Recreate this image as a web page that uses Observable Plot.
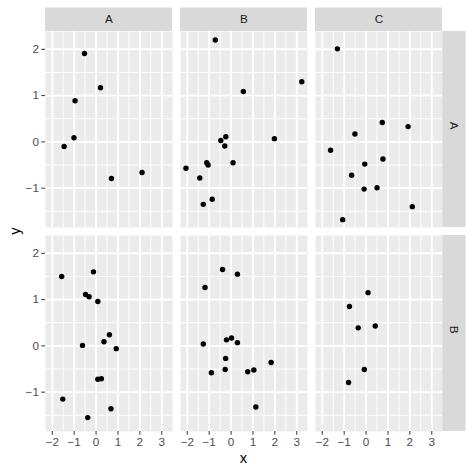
<!DOCTYPE html>
<html><head><meta charset="utf-8">
<script src="https://cdn.jsdelivr.net/npm/d3@7"></script>
<script src="https://cdn.jsdelivr.net/npm/@observablehq/plot@0.6"></script>
<style>html,body{margin:0;padding:0;background:white}</style>
</head><body><div id="chart"></div>
<script>
const colFacets = ["A", "B", "C"];
const rowFacets = ["A", "B"];
const xTicks = [-2, -1, 0, 1, 2, 3];
const yTicks = [-1, 0, 1, 2];
const xMinor = [-1.5, -0.5, 0.5, 1.5, 2.5];
const yMinor = [-1.5, -0.5, 0.5, 1.5];

// row A
const xAA = [-1.46, -0.53, 0.20, -0.96, -1.01, 0.70, 2.10];
const yAA = [-0.10, 1.91, 1.17, 0.89, 0.09, -0.79, -0.66];
const xAB = [-0.72, 3.23, 0.56, 1.98, -0.47, -0.24, -0.29, 0.09, -1.11, -1.05, -2.06, -1.43, -0.86, -1.27];
const yAB = [2.20, 1.30, 1.09, 0.07, 0.03, 0.11, -0.09, -0.45, -0.45, -0.50, -0.57, -0.78, -1.24, -1.35];
const xAC = [-1.31, 0.74, 1.92, -0.51, -1.62, 0.77, -0.06, -0.66, -0.09, 0.50, 2.11, -1.07];
const yAC = [2.01, 0.42, 0.33, 0.17, -0.18, -0.37, -0.48, -0.72, -1.02, -0.99, -1.40, -1.68];
// row B
const xBA = [-1.57, -0.12, -0.48, -0.32, 0.08, 0.61, 0.36, -0.62, 0.92, 0.08, 0.24, -1.52, 0.68, -0.38];
const yBA = [1.50, 1.60, 1.11, 1.06, 0.96, 0.24, 0.09, 0.01, -0.06, -0.72, -0.71, -1.15, -1.36, -1.55];
const xBB = [-0.39, 0.29, -1.19, 0.02, -0.21, 0.29, -1.27, -0.25, 1.83, -0.27, -0.90, 0.76, 1.04, 1.13];
const yBB = [1.65, 1.55, 1.26, 0.17, 0.13, 0.07, 0.04, -0.27, -0.36, -0.51, -0.58, -0.56, -0.52, -1.32];
const xBC = [0.09, -0.76, -0.36, 0.42, -0.08, -0.80];
const yBC = [1.15, 0.85, 0.39, 0.43, -0.51, -0.79];

const panels = [
  ["A", "A", xAA, yAA], ["A", "B", xAB, yAB], ["A", "C", xAC, yAC],
  ["B", "A", xBA, yBA], ["B", "B", xBB, yBB], ["B", "C", xBC, yBC]
];
const points = panels.flatMap(([row, col, xs, ys]) => xs.map((x, i) => ({row, col, x, y: ys[i]})));

const font = "'Liberation Sans', Arial, sans-serif";
const chart = Plot.plot({
  width: 474,
  height: 474,
  marginLeft: 43.3,
  marginRight: 30.7,
  marginTop: 30.7,
  marginBottom: 42.3,
  x: {domain: [-2.31, 3.49]},
  y: {domain: [-1.85, 2.385]},
  fx: {domain: colFacets, paddingInner: 0.0559, paddingOuter: 0, axis: null},
  fy: {domain: rowFacets, paddingInner: 0.0372, paddingOuter: 0, axis: null},
  style: {fontFamily: font, fontSize: "11.7px", background: "white", overflow: "visible"},
  marks: [
    Plot.frame({fill: "#EBEBEB", stroke: null}),
    Plot.gridX(xMinor, {stroke: "white", strokeOpacity: 1, strokeWidth: 0.95}),
    Plot.gridY(yMinor, {stroke: "white", strokeOpacity: 1, strokeWidth: 0.95}),
    Plot.gridX(xTicks, {stroke: "white", strokeOpacity: 1, strokeWidth: 1.9}),
    Plot.gridY(yTicks, {stroke: "white", strokeOpacity: 1, strokeWidth: 1.9}),
    Plot.axisX(xTicks, {tickSize: 3.7, tickPadding: 2.9, stroke: "#333333", fill: "#4D4D4D", label: null, fontSize: 11.7}),
    Plot.axisY(yTicks, {tickSize: 3.7, tickPadding: 2.9, stroke: "#333333", fill: "#4D4D4D", label: null, fontSize: 11.7}),
    Plot.dot(points, {x: "x", y: "y", fx: "col", fy: "row", r: 2.7, fill: "black", stroke: null}),
    Plot.text(colFacets, {fx: d => d, fy: () => rowFacets[0], text: d => d, frameAnchor: "top", dy: -12, lineAnchor: "middle", fill: "#1A1A1A", fontSize: 11.7}),
    Plot.text(rowFacets, {fy: d => d, fx: () => colFacets[colFacets.length - 1], text: d => d, frameAnchor: "right", dx: 11.7, rotate: 90, lineAnchor: "middle", fill: "#1A1A1A", fontSize: 11.7})
  ]
});

const svg = d3.select(chart);
const fx = chart.scale("fx"), fy = chart.scale("fy");
const stripSize = 23.5;
const strips = svg.insert("g", ":first-child").attr("fill", "#D9D9D9");
colFacets.forEach(c => {
  strips.append("rect")
    .attr("x", fx.apply(c)).attr("y", fy.apply(rowFacets[0]) - stripSize)
    .attr("width", fx.bandwidth).attr("height", stripSize);
});
rowFacets.forEach(r => {
  strips.append("rect")
    .attr("x", fx.apply(colFacets[colFacets.length - 1]) + fx.bandwidth).attr("y", fy.apply(r))
    .attr("width", stripSize).attr("height", fy.bandwidth);
});
const xl = fx.apply(colFacets[0]), xr = fx.apply(colFacets[colFacets.length - 1]) + fx.bandwidth;
const yt = fy.apply(rowFacets[0]), yb = fy.apply(rowFacets[rowFacets.length - 1]) + fy.bandwidth;
svg.append("text").attr("x", (xl + xr) / 2).attr("y", yb + 28.5)
  .attr("text-anchor", "middle").attr("dominant-baseline", "middle")
  .attr("font-size", 14.7).attr("fill", "black").text("x");
svg.append("text").attr("transform", `translate(15.7,${(yt + yb) / 2}) rotate(-90)`)
  .attr("text-anchor", "middle").attr("dominant-baseline", "middle")
  .attr("font-size", 14.7).attr("fill", "black").text("y");
document.getElementById("chart").appendChild(chart);
</script>
</body></html>
